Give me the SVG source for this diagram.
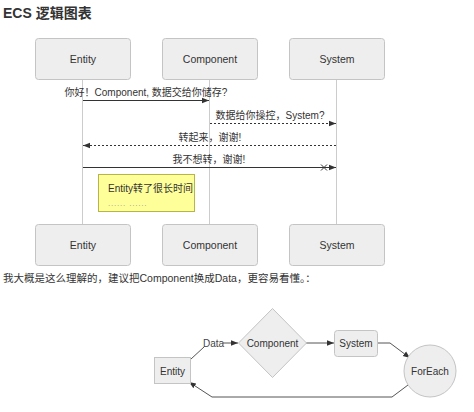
<svg xmlns="http://www.w3.org/2000/svg" width="474" height="412" viewBox="0 0 474 412">
<defs>
<style>
text{font-family:"Liberation Sans","Noto Sans CJK SC",Arial,sans-serif;fill:#333;}
.title{font-size:14px;font-weight:bold;}
.lbl{font-size:10.5px;text-anchor:middle;dominant-baseline:central;}
.msg{font-size:10px;text-anchor:middle;}
.box{fill:#eeeeee;stroke:#c4c4c4;stroke-width:1;}
.life{stroke:#cccccc;stroke-width:1;fill:none;}
.solid{stroke:#333;stroke-width:1;fill:none;}
.dot{stroke:#333;stroke-width:1;fill:none;stroke-dasharray:2,2;}
.edge{stroke:#555;stroke-width:1;fill:none;}
</style>
<marker id="ah" viewBox="0 0 10 10" refX="10" refY="5" markerWidth="7" markerHeight="7" orient="auto" markerUnits="userSpaceOnUse">
<path d="M0,1 L10,5 L0,9 Z" fill="#333"/>
</marker>
</defs>
<rect width="474" height="412" fill="#fff"/>
<text class="title" x="3" y="18">ECS 逻辑图表</text>

<g id="lifelines">
<line class="life" x1="82.5" y1="79" x2="82.5" y2="224"/>
<line class="life" x1="209.5" y1="79" x2="209.5" y2="224"/>
<line class="life" x1="336.5" y1="79" x2="336.5" y2="224"/>
</g>

<g id="entity-top"><rect class="box" x="35.5" y="38.5" width="95" height="41" rx="3"/><text class="lbl" x="83" y="59">Entity</text></g>
<g id="component-top"><rect class="box" x="162.5" y="38.5" width="95" height="41" rx="3"/><text class="lbl" x="210" y="59">Component</text></g>
<g id="system-top"><rect class="box" x="289.5" y="38.5" width="95" height="41" rx="3"/><text class="lbl" x="337" y="59">System</text></g>

<g id="entity-bottom"><rect class="box" x="35.5" y="224.5" width="95" height="41" rx="3"/><text class="lbl" x="83" y="245">Entity</text></g>
<g id="component-bottom"><rect class="box" x="162.5" y="224.5" width="95" height="41" rx="3"/><text class="lbl" x="210" y="245">Component</text></g>
<g id="system-bottom"><rect class="box" x="289.5" y="224.5" width="95" height="41" rx="3"/><text class="lbl" x="337" y="245">System</text></g>

<g id="messages">
<line class="solid" x1="83" y1="100.5" x2="209" y2="100.5" marker-end="url(#ah)"/>
<text class="msg" x="146" y="96">你好！Component, 数据交给你储存?</text>
<line class="dot" x1="210" y1="123.5" x2="336" y2="123.5" marker-end="url(#ah)"/>
<text class="msg" x="270" y="119">数据给你操控，System?</text>
<line class="dot" x1="336" y1="145.5" x2="83" y2="145.5" marker-end="url(#ah)"/>
<text class="msg" x="210" y="141">转起来，谢谢!</text>
<line class="solid" x1="83" y1="167.5" x2="336" y2="167.5" marker-end="url(#ah)"/>
<path class="solid" d="M321,164.5 L327,170.5 M327,164.5 L321,170.5"/>
<text class="msg" x="209" y="163">我不想转，谢谢!</text>
</g>

<g id="note">
<rect x="98.5" y="174.5" width="96" height="37" fill="#ffff99" stroke="#b5b54a" stroke-width="1"/>
<text x="108" y="192" style="font-size:10px">Entity转了很长时间</text>
<text x="108" y="206" style="font-size:8px;fill:#999;letter-spacing:0.8px">...... ......</text>
</g>

<text x="3" y="282" style="font-size:10.5px">我大概是这么理解的，建议把Component换成Data，更容易看懂。：</text>

<g id="flow-edges">
<path class="edge" d="M191,359 L204,347"/>
<path class="edge" d="M223,343 L238,343" marker-end="url(#ah)"/>
<text x="213.5" y="343" class="lbl" style="font-size:10px;fill:#444">Data</text>
<path class="edge" d="M306,343 L334,343" marker-end="url(#ah)"/>
<path class="edge" d="M377,343 L390,343 L410,358" marker-end="url(#ah)"/>
<path class="edge" d="M408,385 L392,397 L212,397 L189,382" marker-end="url(#ah)"/>
</g>

<g id="flow-entity"><rect class="box" x="154.5" y="357.5" width="36" height="26"/><text class="lbl" x="172.5" y="371" style="font-size:10px">Entity</text></g>
<g id="flow-component"><path class="box" d="M272.5,308.5 L306.5,343 L272.5,377.5 L238.5,343 Z"/><text class="lbl" x="272.5" y="343" style="font-size:10px">Component</text></g>
<g id="flow-system"><rect class="box" x="334.5" y="330.5" width="43" height="26" rx="3"/><text class="lbl" x="356" y="343.5" style="font-size:10px">System</text></g>
<g id="flow-foreach"><circle class="box" cx="430" cy="371" r="26"/><text class="lbl" x="430" y="371" style="font-size:10px">ForEach</text></g>
</svg>
